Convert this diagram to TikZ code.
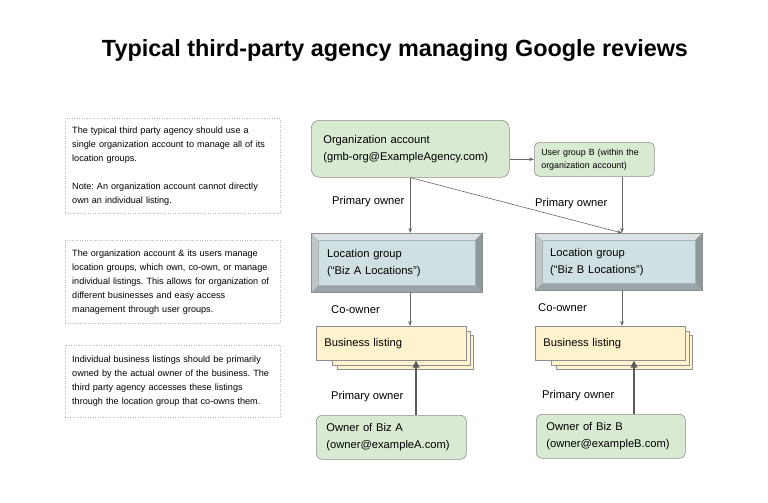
\documentclass[tikz,border=0pt]{standalone}
\usepackage{fontspec}
\setmainfont{Liberation Sans}
\usetikzlibrary{arrows.meta}

\definecolor{orggreen}{HTML}{D9EAD3}
\definecolor{locface}{HTML}{D0DFE2}
\definecolor{listyellow}{HTML}{FFF2CC}
\definecolor{linegray}{HTML}{666666}
\definecolor{boxgray}{HTML}{8F8F8F}
\definecolor{bevtopc}{HTML}{DCE3E4}
\definecolor{bevleftc}{HTML}{BCC5C7}
\definecolor{bevbotc}{HTML}{9AA5A7}
\definecolor{bevrightc}{HTML}{8E999B}

% bevel frame round a location group node
\newcommand*{\bevel}[1]{%
	\fill[bevtopc] (#1.north west) -- (#1.north east) -- ([shift={(-7,7)}]#1.north east) -- ([shift={(7,7)}]#1.north west) -- cycle;
	\fill[bevbotc] (#1.south west) -- (#1.south east) -- ([shift={(-7,-7)}]#1.south east) -- ([shift={(7,-7)}]#1.south west) -- cycle;
	\fill[bevleftc] (#1.north west) -- ([shift={(7,7)}]#1.north west) -- ([shift={(7,-7)}]#1.south west) -- (#1.south west) -- cycle;
	\fill[bevrightc] (#1.north east) -- ([shift={(-7,7)}]#1.north east) -- ([shift={(-7,-7)}]#1.south east) -- (#1.south east) -- cycle;
	\draw[bevline] ([shift={(7,7)}]#1.north west) rectangle ([shift={(-7,-7)}]#1.south east);
	\draw[boxgray,line width=0.5pt] (#1.north west) rectangle (#1.south east);
}
% sheets behind a business listing, #1/#2 = its top left corner
\newcommand*{\sheets}[2]{%
	\filldraw[sheet] (#1+21,#2+9) rectangle (#1+157,#2+43);
	\filldraw[sheet] (#1+16,#2+5) rectangle (#1+154,#2+39);
}

\begin{document}
\begin{tikzpicture}
[
	x=1pt, y=-1pt,
	every node/.style={inner sep=0pt, font=\fontsize{11.2}{17}\selectfont},
	note/.style={draw=gray!55, dash pattern=on 1pt off 1.5pt, anchor=north west, align=left,
		text width=201pt, inner xsep=7pt, font=\fontsize{9.1}{14}\selectfont\frenchspacing},
	orgbox/.style={draw=boxgray, fill=orggreen, rounded corners=6pt, anchor=north west, align=left, line width=0.6pt},
	locbox/.style={fill=locface, anchor=north west, align=left},
	listbox/.style={draw=boxgray, fill=listyellow, anchor=north west, align=left, line width=0.6pt},
	sheet/.style={draw=boxgray, fill=listyellow, line width=0.6pt},
	bevline/.style={draw=black!20!locface, line width=0.4pt},
	lbl/.style={anchor=base west},
	arr/.style={draw=linegray, line width=0.6pt, -{Stealth[length=5pt,width=3.6pt]}},
	ownarr/.style={draw=black!65, line width=1.6pt, -{Triangle[length=7pt,width=6.5pt]}},
]

	\useasboundingbox (0,0) rectangle (768,503);

	% title
	\node[font=\bfseries\fontsize{23.4}{28}\selectfont] (title) at (395,51) {Typical third-party agency managing Google reviews};

	% notes
	\node[note, minimum height=95pt] (note1) at (65,118)
		{The typical third party agency should use a\\ single organization account to manage all of its\\ location groups.\\[14pt] Note: An organization account cannot directly\\ own an individual listing.};
	\node[note, minimum height=83pt] (note2) at (65,240)
		{The organization account \& its users manage\\ location groups, which own, co-own, or manage\\ individual listings. This allows for organization of\\ different businesses and easy access\\ management through user groups.};
	\node[note, minimum height=72pt] (note3) at (65,345)
		{Individual business listings should be primarily\\ owned by the actual owner of the business. The\\ third party agency accesses these listings\\ through the location group that co-owns them.};

	% accounts
	\node[orgbox, rounded corners=8pt, minimum height=57pt, text width=174pt, inner xsep=12pt] (org) at (311,120)
		{Organization account\\ (gmb-org@ExampleAgency.com)};
	\node[orgbox, rounded corners=5pt, minimum height=34pt, text width=106pt, inner xsep=7pt,
		font=\fontsize{8.9}{13}\selectfont] (ugB) at (534,142)
		{User group B (within the\\ organization account)};

	% location groups
	\node[locbox, minimum height=59pt, text width=139pt, inner xsep=16pt] (locA) at (311,233)
		{Location group\\ (``Biz A Locations'')};
	\bevel{locA}
	\node[locbox, minimum height=57pt, text width=137pt, inner xsep=15pt] (locB) at (535,233)
		{Location group\\ (``Biz B Locations'')};
	\bevel{locB}

	% listings
	\sheets{316}{326}
	\node[listbox, minimum height=34pt, text width=134pt, inner xsep=8pt] (bizA) at (316,326) {Business listing};
	\sheets{535}{326}
	\node[listbox, minimum height=34pt, text width=134pt, inner xsep=8pt] (bizB) at (535,326) {Business listing};

	% owners
	\node[orgbox, minimum height=44pt, text width=130pt, inner xsep=10pt] (ownA) at (316,415)
		{Owner of Biz A\\ (owner@exampleA.com)};
	\node[orgbox, minimum height=44pt, text width=129pt, inner xsep=10pt] (ownB) at (536,414)
		{Owner of Biz B\\ (owner@exampleB.com)};

	% connectors
	\coordinate (colA) at (410,0);
	\coordinate (colB) at (622,0);
	\coordinate (colOA) at (416,0);
	\coordinate (colOB) at (634,0);

	\draw[arr] (org.east |- ugB.west) -- (ugB.west);
	\draw[arr] (org.south) -- (org.south |- locA.north);
	\draw[arr] (org.south) -- (colB |- locB.north);
	\draw[arr] (colB |- ugB.south) -- (colB |- locB.north);
	\draw[arr] (colA |- locA.south) -- (colA |- bizA.north);
	\draw[arr] (colB |- locB.south) -- (colB |- bizB.north);
	\draw[ownarr] (colOA |- ownA.north) -- (colOA |- bizA.south);
	\draw[ownarr] (colOB |- ownB.north) -- (colOB |- bizB.south);

	% labels
	\node[lbl] (lblOrgA) at (332,204) {Primary owner};
	\node[lbl] (lblOrgB) at (535,206) {Primary owner};
	\node[lbl] (lblCoA) at (331,313) {Co-owner};
	\node[lbl] (lblCoB) at (538,311) {Co-owner};
	\node[lbl] (lblOwnA) at (331,399) {Primary owner};
	\node[lbl] (lblOwnB) at (542,398) {Primary owner};

\end{tikzpicture}
\end{document}
